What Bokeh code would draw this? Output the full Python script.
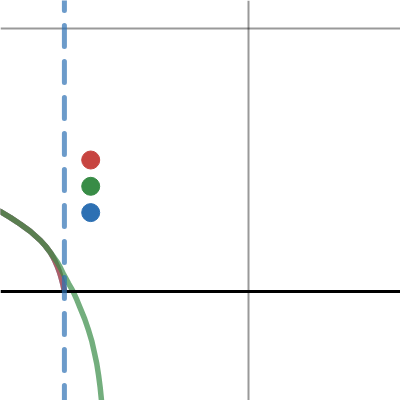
from bokeh.models import ColumnDataSource, Range1d, Span, FixedTicker
from bokeh.plotting import figure
from bokeh.embed import file_html
from bokeh.resources import INLINE

# values (graph units)
green_x = [-0.020, 0.019, 0.057, 0.095, 0.133, 0.171, 0.209, 0.228, 0.247,
           0.262, 0.274, 0.286, 0.297, 0.307, 0.316, 0.326, 0.335, 0.348, 0.361,
           0.377, 0.392, 0.404, 0.414, 0.423, 0.430, 0.436, 0.441, 0.445]
green_y = [0.345, 0.325, 0.304, 0.281, 0.256, 0.228, 0.194, 0.173, 0.148,
           0.127, 0.110, 0.088, 0.065, 0.047, 0.030, 0.013, -0.004, -0.033, -0.065,
           -0.104, -0.148, -0.188, -0.232, -0.274, -0.319, -0.365, -0.414, -0.450]

red_x = [-0.020, 0.019, 0.057, 0.095, 0.133, 0.171, 0.209, 0.228, 0.247,
         0.256, 0.265, 0.273, 0.280, 0.286, 0.291, 0.295, 0.298, 0.300]
red_y = [0.345, 0.325, 0.304, 0.281, 0.256, 0.228, 0.194, 0.173, 0.148,
         0.132, 0.114, 0.096, 0.077, 0.058, 0.040, 0.024, 0.010, 0.0]

blue_x = red_x
blue_y = red_y

asymptote_x = 0.3
dot_x = [0.4, 0.4, 0.4]
dot_y = [0.5, 0.4, 0.3]
dot_colors = ['#c74440', '#388c46', '#2d70b3']

grid_x = [1.0]
grid_y = [1.0]

p = figure(width=400, height=400, output_backend="svg", toolbar_location=None,
           x_range=Range1d(0.057, 1.578), y_range=Range1d(-0.4144, 1.1065),
           min_border=0)
p.outline_line_color = None
p.axis.visible = False
p.xgrid.ticker = FixedTicker(ticks=grid_x)
p.ygrid.ticker = FixedTicker(ticks=grid_y)
p.grid.grid_line_color = 'black'
p.grid.grid_line_alpha = 0.4
p.grid.grid_line_width = 2

p.add_layout(Span(location=0, dimension='width', line_color='black', line_width=3))

p.line(blue_x, blue_y, line_color='#2d70b3', line_width=5.5, line_alpha=0.7, line_join='round')
p.line(red_x, red_y, line_color='#c74440', line_width=5.5, line_alpha=0.7, line_join='round')
p.line(green_x, green_y, line_color='#388c46', line_width=5.5, line_alpha=0.7, line_join='round')

p.add_layout(Span(location=asymptote_x, dimension='height', line_color='#2d70b3',
                  line_alpha=0.7, line_width=5, line_dash='21 15',
                  line_dash_offset=11, line_cap='round'))

src = ColumnDataSource(dict(x=dot_x, y=dot_y, c=dot_colors))
p.scatter('x', 'y', source=src, size=18, color='c')

open("out.html", "w").write(file_html(p, INLINE))
